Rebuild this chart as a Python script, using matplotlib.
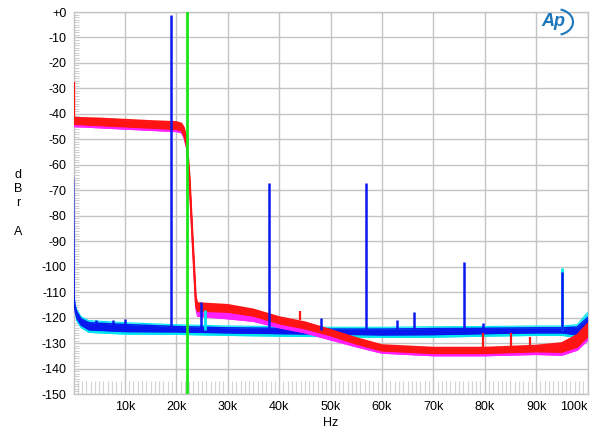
import matplotlib
matplotlib.use("Agg")
import matplotlib.pyplot as plt
from matplotlib.ticker import MultipleLocator
from matplotlib.patches import Arc

plt.rcParams["font.family"] = ["Liberation Sans", "DejaVu Sans"]

# --- data (Hz, dBr) ---
# red trace: noise band (upper / lower edge)
red_f = [0, 5000, 10000, 15000, 20000, 21000, 21500, 22050, 22600, 23100,
         23500, 23800, 24100, 30000, 35000, 40000, 45000, 50000, 55000,
         60000, 70000, 80000, 90000, 95000, 98000, 100000]
red_hi = [-41.5, -41.8, -42.3, -42.8, -43.2, -43.8, -45.5, -50.0, -65.0,
          -85.0, -100.5, -112.0, -114.3, -115.0, -116.8, -119.8, -121.8,
          -124.8, -128.0, -130.8, -131.8, -131.8, -131.0, -130.0, -126.8,
          -122.5]
red_lo = [-44.0, -44.5, -45.0, -45.5, -46.0, -46.5, -48.5, -53.0, -68.0,
          -88.0, -103.5, -115.0, -117.3, -117.8, -119.3, -122.3, -124.3,
          -127.0, -130.3, -133.0, -134.0, -134.0, -133.3, -133.5, -131.5,
          -127.5]
# magenta trace lower edge (mostly hidden under red)
mag_lo = [-45.0, -45.5, -46.0, -46.5, -47.0, -47.5, -49.5, -54.0, -69.0,
          -89.0, -104.5, -116.5, -119.5, -120.5, -121.5, -124.0, -126.0,
          -128.8, -131.5, -134.0, -135.0, -135.0, -134.5, -134.8, -132.8,
          -129.0]

# blue trace: noise band
blue_f = [0, 100, 300, 700, 1500, 3000, 10000, 20000, 30000, 40000, 50000,
          60000, 70000, 80000, 90000, 95000, 98000, 100000]
blue_hi = [-65.0, -111.5, -115.5, -118.0, -120.5, -122.0, -122.7, -123.5,
           -124.0, -124.2, -124.5, -124.5, -124.3, -124.2, -124.0, -124.0,
           -123.7, -120.0]
blue_lo = [-66.0, -113.5, -117.5, -120.5, -123.0, -124.8, -125.5, -125.6,
           -126.0, -126.3, -126.5, -126.8, -126.7, -126.3, -126.0, -126.0,
           -126.8, -123.0]
# cyan trace (slightly wider, under blue)
cyan_hi = [-63.5, -110.8, -114.8, -117.2, -119.7, -121.2, -122.0, -122.8,
           -123.3, -123.5, -123.8, -123.8, -123.6, -123.5, -123.3, -123.3,
           -122.8, -118.0]
cyan_lo = [-66.5, -114.5, -118.5, -121.5, -124.0, -125.8, -126.5, -126.6,
           -127.0, -127.3, -127.5, -127.8, -127.7, -127.3, -127.0, -127.0,
           -127.8, -124.0]

# spikes
blue_spike_f = [19000, 38000, 57000, 76000, 95000, 24800, 48200, 63000,
                66200, 4300, 7700, 10000, 79600]
blue_spike_top = [-1.2, -67.0, -67.0, -98.0, -102.0, -114.0, -120.0, -121.0,
                  -117.7, -121.0, -121.0, -120.5, -122.0]
cyan_spike_f = [95000, 25500]
cyan_spike_top = [-100.5, -117.0]
red_spike_f = [150, 44000, 79600, 85200, 88900, 96000]
red_spike_top = [-27.5, -117.3, -126.0, -126.0, -127.6, -128.6]
red_spike_base = [-43.0, -121.0, -132.0, -132.0, -132.0, -132.0]

green_f = 22050

x_ticks = [10000, 20000, 30000, 40000, 50000, 60000, 70000, 80000, 90000, 100000]
x_labels = ["10k", "20k", "30k", "40k", "50k", "60k", "70k", "80k", "90k", "100k"]
y_ticks = list(range(0, -151, -10))
y_labels = ["+0"] + [str(v) for v in y_ticks[1:]]

# --- figure ---
fig = plt.figure(figsize=(6, 4.4), dpi=100)
ax = fig.add_axes([73.5 / 600, 1 - 394 / 440, 514 / 600, 382 / 440])

grid_c = "#c4c4c4"
cyan, blue, mag, red = "#00e5f0", "#0a18f0", "#ff20ff", "#ff1414"

ax.fill_between(blue_f, cyan_lo, cyan_hi, color=cyan, lw=0, zorder=2)
ax.plot(blue_f, cyan_hi, color=cyan, lw=0.8, zorder=2)
ax.plot(blue_f, cyan_lo, color=cyan, lw=0.8, zorder=2)
ax.fill_between(blue_f, blue_lo, blue_hi, color=blue, lw=0, zorder=3)
ax.plot(blue_f, blue_hi, color=blue, lw=1.0, zorder=3)
ax.plot(blue_f, blue_lo, color=blue, lw=1.0, zorder=3)

ax.fill_between(red_f, mag_lo, red_hi, color=mag, lw=0, zorder=4)
ax.plot(red_f, mag_lo, color=mag, lw=0.8, zorder=4)
ax.fill_between(red_f, red_lo, red_hi, color=red, lw=0, zorder=5)
ax.plot(red_f, red_hi, color=red, lw=1.3, zorder=5)
ax.plot(red_f, red_lo, color=red, lw=1.3, zorder=5)

ax.vlines(red_spike_f, red_spike_base, red_spike_top, color=red, lw=1.6, zorder=5)
ax.vlines(cyan_spike_f, -125, cyan_spike_top, color=cyan, lw=2, zorder=6)
ax.vlines(blue_spike_f, -125, blue_spike_top, color=blue, lw=1.8, zorder=7)
ax.axvline(green_f, color="#19e619", lw=2, zorder=8)

ax.set_xlim(0, 100000)
ax.set_ylim(-150, 0)
ax.set_xticks(x_ticks)
ax.set_xticklabels(x_labels)
ax.set_yticks(y_ticks)
ax.set_yticklabels(y_labels)
ax.xaxis.set_minor_locator(MultipleLocator(10000 / 12))
ax.yaxis.set_minor_locator(MultipleLocator(1))
ax.tick_params(which="major", length=0, labelsize=9, pad=5)
ax.tick_params(axis="x", which="minor", direction="in", length=9.5,
               width=0.8, color="#d4d4d4", top=False)
ax.tick_params(axis="y", which="minor", direction="in", length=3.5,
               width=0.6, color=grid_c, right=False)
labs = ax.get_xticklabels()
labs[-1].set_horizontalalignment("right")

ax.grid(True, which="major", color=grid_c, lw=1)
ax.set_axisbelow(True)
for s in ax.spines.values():
    s.set_color(grid_c)
    s.set_linewidth(1)

fig.text(18 / 600, 1 - 203 / 440, "d\nB\nr\n\nA", ha="center", va="center",
         fontsize=9, linespacing=1.25)
fig.text(331 / 600, 1 - 423 / 440, "Hz", ha="center", va="center", fontsize=9)

# AP logo
fig.text(553 / 600, 1 - 22 / 440, "Ap", ha="center", va="center", fontsize=13,
         style="italic", fontweight="bold", color="#1b76bc")
fig.add_artist(Arc((556 / 600, 1 - 22 / 440), 34 / 600, 26 / 440, theta1=-75,
                   theta2=75, color="#1b76bc", lw=1.5,
                   transform=fig.transFigure))

fig.savefig("out.png", dpi=100)
